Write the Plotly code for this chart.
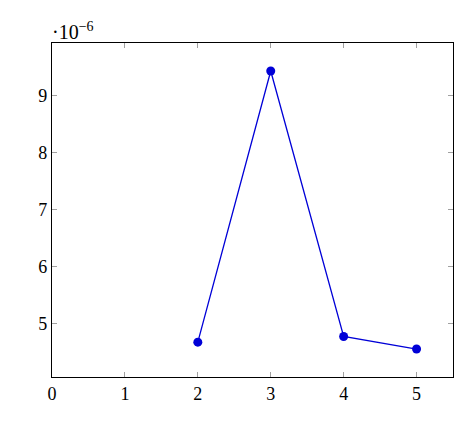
import plotly.graph_objects as go

# data (y values in units of 1e-6)
x_vals = [2, 3, 4, 5]
y_vals = [4.68, 9.43, 4.78, 4.56]
x_ticks = [0, 1, 2, 3, 4, 5]
y_ticks = [5, 6, 7, 8, 9]
scale_label = "·10<sup>−6</sup>"

blue = "rgb(0,0,215)"
font = dict(family="Liberation Serif", size=18, color="black")

fig = go.Figure()
fig.add_trace(go.Scatter(
    x=x_vals, y=y_vals, mode="lines+markers",
    line=dict(color=blue, width=1.3),
    marker=dict(color=blue, size=9),
    showlegend=False,
))

axis_style = dict(
    showgrid=False, zeroline=False,
    showline=True, linecolor="black", linewidth=1.2, mirror="ticks",
    ticks="inside", ticklen=5, tickwidth=1, tickcolor="rgb(160,160,160)",
    tickfont=font,
)
fig.update_xaxes(range=[0, 5.5], tickvals=x_ticks, ticktext=[str(t) for t in x_ticks], **axis_style)
fig.update_yaxes(range=[4.07, 9.92], tickvals=y_ticks, ticktext=[str(t) for t in y_ticks], **axis_style)

fig.add_annotation(
    x=0, y=1, xref="paper", yref="paper", xanchor="left", yanchor="bottom",
    text=scale_label, showarrow=False,
    font=dict(family="Liberation Serif", size=20, color="black"), xshift=-2, yshift=-2,
)

# page body has an 8px margin, so the figure is sized to fit the window
fig.update_layout(
    width=466, height=417,
    margin=dict(l=44, r=21, t=35, b=48),
    plot_bgcolor="white", paper_bgcolor="white",
)
fig.write_html("out.html")
